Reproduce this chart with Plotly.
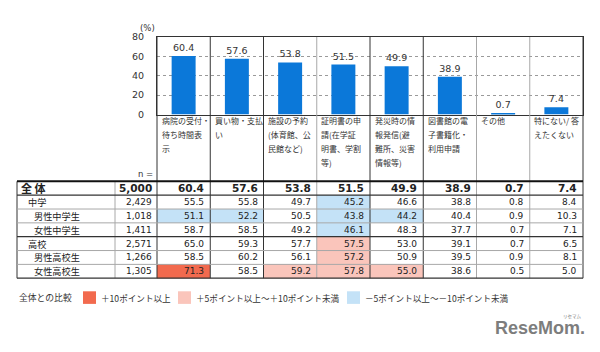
import plotly.graph_objects as go

# ---------------- data ----------------
categories = ["病院の受付・待ち時間表示", "買い物・支払い", "施設の予約(体育館、公民館など)",
              "証明書の申請(在学証明書、学割等)", "発災時の情報発信(避難所、災害情報等)",
              "図書館の電子書籍化・利用申請", "その他", "特にない/ 答えたくない"]
category_lines = [["病院の受付・", "待ち時間表", "示"],
                  ["買い物・支払", "い"],
                  ["施設の予約", "(体育館、公", "民館など)"],
                  ["証明書の申", "請(在学証", "明書、学割", "等)"],
                  ["発災時の情", "報発信(避", "難所、災害", "情報等)"],
                  ["図書館の電", "子書籍化・", "利用申請"],
                  ["その他"],
                  ["特にない/ 答", "えたくない"]]
overall = [60.4, 57.6, 53.8, 51.5, 49.9, 38.9, 0.7, 7.4]
y_ticks = [0, 20, 40, 60, 80]

row_labels = ["全 体", "中学", "男性中学生", "女性中学生", "高校", "男性高校生", "女性高校生"]
row_level = [0, 1, 2, 2, 1, 2, 2]
row_n = ["5,000", "2,429", "1,018", "1,411", "2,571", "1,266", "1,305"]
table_values = [
    [60.4, 57.6, 53.8, 51.5, 49.9, 38.9, 0.7, 7.4],
    [55.5, 55.8, 49.7, 45.2, 46.6, 38.8, 0.8, 8.4],
    [51.1, 52.2, 50.5, 43.8, 44.2, 40.4, 0.9, 10.3],
    [58.7, 58.5, 49.2, 46.1, 48.3, 37.7, 0.7, 7.1],
    [65.0, 59.3, 57.7, 57.5, 53.0, 39.1, 0.7, 6.5],
    [58.5, 60.2, 56.1, 57.2, 50.9, 39.5, 0.9, 8.1],
    [71.3, 58.5, 59.2, 57.8, 55.0, 38.6, 0.5, 5.0],
]
legend_title = "全体との比較"
legend_labels = ["＋10ポイント以上", "＋5ポイント以上～＋10ポイント未満", "－5ポイント以上～－10ポイント未満"]

# ---------------- style / layout constants ----------------
W, H = 600, 352
BAR_BLUE = "#0B78D9"
RED, PINK, LBLUE = "#F26A4E", "#FAC5BB", "#C4E2F7"
DARK, GRAY = "#333333", "#A8A8A8"
JP = "Noto Sans CJK JP"
NUM = "DejaVu Sans"

PX_L, PX_R = 157, 583
TBL_L = 17
SEP_PX = 115
Y_TOP, Y_ZERO, Y_HDR, Y_BOT = 32, 112, 181, 281
COLW = (PX_R - PX_L) / len(categories)
ROWH = (Y_BOT - Y_HDR) / len(row_labels)
PAD = 3


def px2x(px):
    return -0.5 + (px - PX_L) / COLW


def py2y(py):
    return -0.5 + (py - Y_HDR) / ROWH


def pyp(py):
    return 1 - py / H


# colour codes of the cells relative to 全体
codes = []
for r, row in enumerate(table_values):
    cr = []
    for c, v in enumerate(row):
        d = v - table_values[0][c]
        if r == 0:
            cr.append(0)
        elif d >= 10:
            cr.append(1)
        elif d >= 5:
            cr.append(2)
        elif d <= -5:
            cr.append(3)
        else:
            cr.append(0)
    codes.append(cr)

fig = go.Figure()

fig.add_trace(go.Bar(
    x=categories, y=overall, width=0.45, marker=dict(color=BAR_BLUE, line=dict(width=0)),
    text=overall, texttemplate="%{text:.1f}", textposition="outside",
    textfont=dict(family=NUM, size=9.5, color=DARK), cliponaxis=False,
    hoverinfo="skip", xaxis="x", yaxis="y"))

cs = [[0, "#ffffff"], [1 / 6, "#ffffff"], [1 / 6, RED], [0.5, RED],
      [0.5, PINK], [5 / 6, PINK], [5 / 6, LBLUE], [1, LBLUE]]
fig.add_trace(go.Heatmap(
    x=list(range(len(categories))), y=list(range(len(row_labels))), z=codes,
    zmin=0, zmax=3, colorscale=cs, showscale=False, hoverinfo="skip",
    xgap=0, ygap=0, xaxis="x2", yaxis="y2"))

shapes = []
# vertical column lines (header + chart + table)
col_colors = [DARK, DARK, DARK, GRAY, DARK, DARK, GRAY, GRAY, DARK]
for i, colr in enumerate(col_colors):
    shapes.append(dict(type="line", xref="x2", yref="paper", x0=i - 0.5, x1=i - 0.5,
                       y0=pyp(Y_BOT), y1=pyp(Y_TOP), line=dict(color=colr, width=1), layer="above"))
# left border and label / n separator
shapes.append(dict(type="line", xref="x2", yref="y2", x0=px2x(TBL_L), x1=px2x(TBL_L),
                   y0=-0.5, y1=len(row_labels) - 0.5, line=dict(color=DARK, width=1), layer="above"))
shapes.append(dict(type="line", xref="x2", yref="y2", x0=px2x(SEP_PX), x1=px2x(SEP_PX),
                   y0=-0.5, y1=len(row_labels) - 0.5, line=dict(color=GRAY, width=1), layer="above"))
# horizontal row lines
for k in range(len(row_labels) + 1):
    yy = k - 0.5
    if k == 0:
        ln = dict(color="#111111", width=2)
    elif k in (1, 4, len(row_labels)):
        ln = dict(color=DARK, width=1.2)
    else:
        ln = dict(color=GRAY, width=1)
    shapes.append(dict(type="line", xref="x2", yref="y2", x0=px2x(TBL_L), x1=len(categories) - 0.5,
                       y0=yy, y1=yy, line=ln, layer="above"))

ann = []
# category header labels
for c, lines in enumerate(category_lines):
    for k, t in enumerate(lines):
        ann.append(dict(text=t, xref="x2", yref="y2", x=c - 0.5 + 2.5 / COLW,
                        y=py2y(118.5 + k * 14.2), xanchor="left", yanchor="middle",
                        showarrow=False, font=dict(family=JP, size=8, color=DARK)))
# n =
ann.append(dict(text="n =", xref="x2", yref="y2", x=px2x(155), y=py2y(173), xanchor="right",
                yanchor="middle", showarrow=False, font=dict(family=NUM, size=8.5, color=DARK)))
# row labels & n
indent = {0: 19, 1: 26, 2: 32}
for r, lab in enumerate(row_labels):
    bold = r == 0
    ann.append(dict(text=f"<b>{lab}</b>" if bold else lab, xref="x2", yref="y2",
                    x=px2x(indent[row_level[r]]), y=r, xanchor="left", yanchor="middle",
                    showarrow=False, font=dict(family=JP, size=11 if bold else 9.2, color="#222222")))
    ann.append(dict(text=f"<b>{row_n[r]}</b>" if bold else row_n[r], xref="x2", yref="y2",
                    x=px2x(PX_L - 3), y=r, xanchor="right", yanchor="middle", showarrow=False,
                    font=dict(family=NUM, size=10.5 if bold else 9, color="#222222")))
    for c, v in enumerate(table_values[r]):
        s = f"{v:.1f}"
        ann.append(dict(text=f"<b>{s}</b>" if bold else s, xref="x2", yref="y2",
                        x=c + 0.5 - 4 / COLW, y=r, xanchor="right", yanchor="middle",
                        showarrow=False,
                        font=dict(family=NUM, size=10.5 if bold else 9, color="#222222")))
# (%) unit
ann.append(dict(text="(%)", xref="paper", yref="paper", x=147 / W, y=pyp(23), xanchor="center",
                yanchor="middle", showarrow=False, font=dict(family=NUM, size=8.5, color=DARK)))

# legend
LEG_Y = 301
ann.append(dict(text=legend_title, xref="paper", yref="paper", x=17 / W, y=pyp(LEG_Y),
                xanchor="left", yanchor="middle", showarrow=False,
                font=dict(family=JP, size=8.8, color=DARK)))
leg_sq = [83, 178, 347]
leg_cols = [RED, PINK, LBLUE]
for sx, colr, lab in zip(leg_sq, leg_cols, legend_labels):
    shapes.append(dict(type="rect", xref="paper", yref="paper", x0=sx / W, x1=(sx + 13) / W,
                       y0=pyp(LEG_Y + 6.5), y1=pyp(LEG_Y - 6.5), fillcolor=colr,
                       line=dict(width=0)))
    ann.append(dict(text=lab, xref="paper", yref="paper", x=(sx + 16) / W, y=pyp(LEG_Y),
                    xanchor="left", yanchor="middle", showarrow=False,
                    font=dict(family=JP, size=8.6, color=DARK)))

# logo
ann.append(dict(text="<b>ReseMom.</b>", xref="paper", yref="paper", x=587 / W, y=pyp(332),
                xanchor="right", yanchor="middle", showarrow=False,
                font=dict(family="Liberation Sans", size=18, color="#7d7d7d")))
ann.append(dict(text="リセマム", xref="paper", yref="paper", x=572 / W, y=pyp(320.5),
                xanchor="center", yanchor="middle", showarrow=False,
                font=dict(family=JP, size=4.5, color="#7d7d7d")))

fig.update_layout(
    width=W, height=H, margin=dict(l=0, r=0, t=0, b=0),
    paper_bgcolor="white", plot_bgcolor="rgba(0,0,0,0)", showlegend=False,
    font=dict(family=JP, color=DARK),
    xaxis=dict(domain=[PX_L / W, PX_R / W], type="category", range=[-0.5, len(categories) - 0.5],
               showticklabels=False, showgrid=False, zeroline=False, ticks="",
               showline=True, mirror=True, linecolor=DARK, linewidth=1, fixedrange=True),
    yaxis=dict(domain=[pyp(Y_ZERO), pyp(Y_TOP)], range=[0, 80], tickvals=y_ticks,
               ticktext=[str(v) for v in y_ticks], tickfont=dict(family=NUM, size=9.5, color=DARK),
               showgrid=True, gridcolor="#9a9a9a", griddash="dot", gridwidth=1, zeroline=False,
               showline=True, mirror=True, linecolor=DARK, linewidth=1, ticks="",
               ticklabelstandoff=10, fixedrange=True),
    xaxis2=dict(domain=[(TBL_L - PAD) / W, (PX_R + PAD) / W],
                range=[px2x(TBL_L - PAD), px2x(PX_R + PAD)], visible=False, fixedrange=True,
                anchor="y2"),
    yaxis2=dict(domain=[pyp(Y_BOT + PAD), pyp(Y_ZERO)],
                range=[py2y(Y_BOT + PAD), py2y(Y_ZERO)], visible=False, fixedrange=True,
                anchor="x2"),
    shapes=shapes, annotations=ann,
)

fig.write_html("out.html")
